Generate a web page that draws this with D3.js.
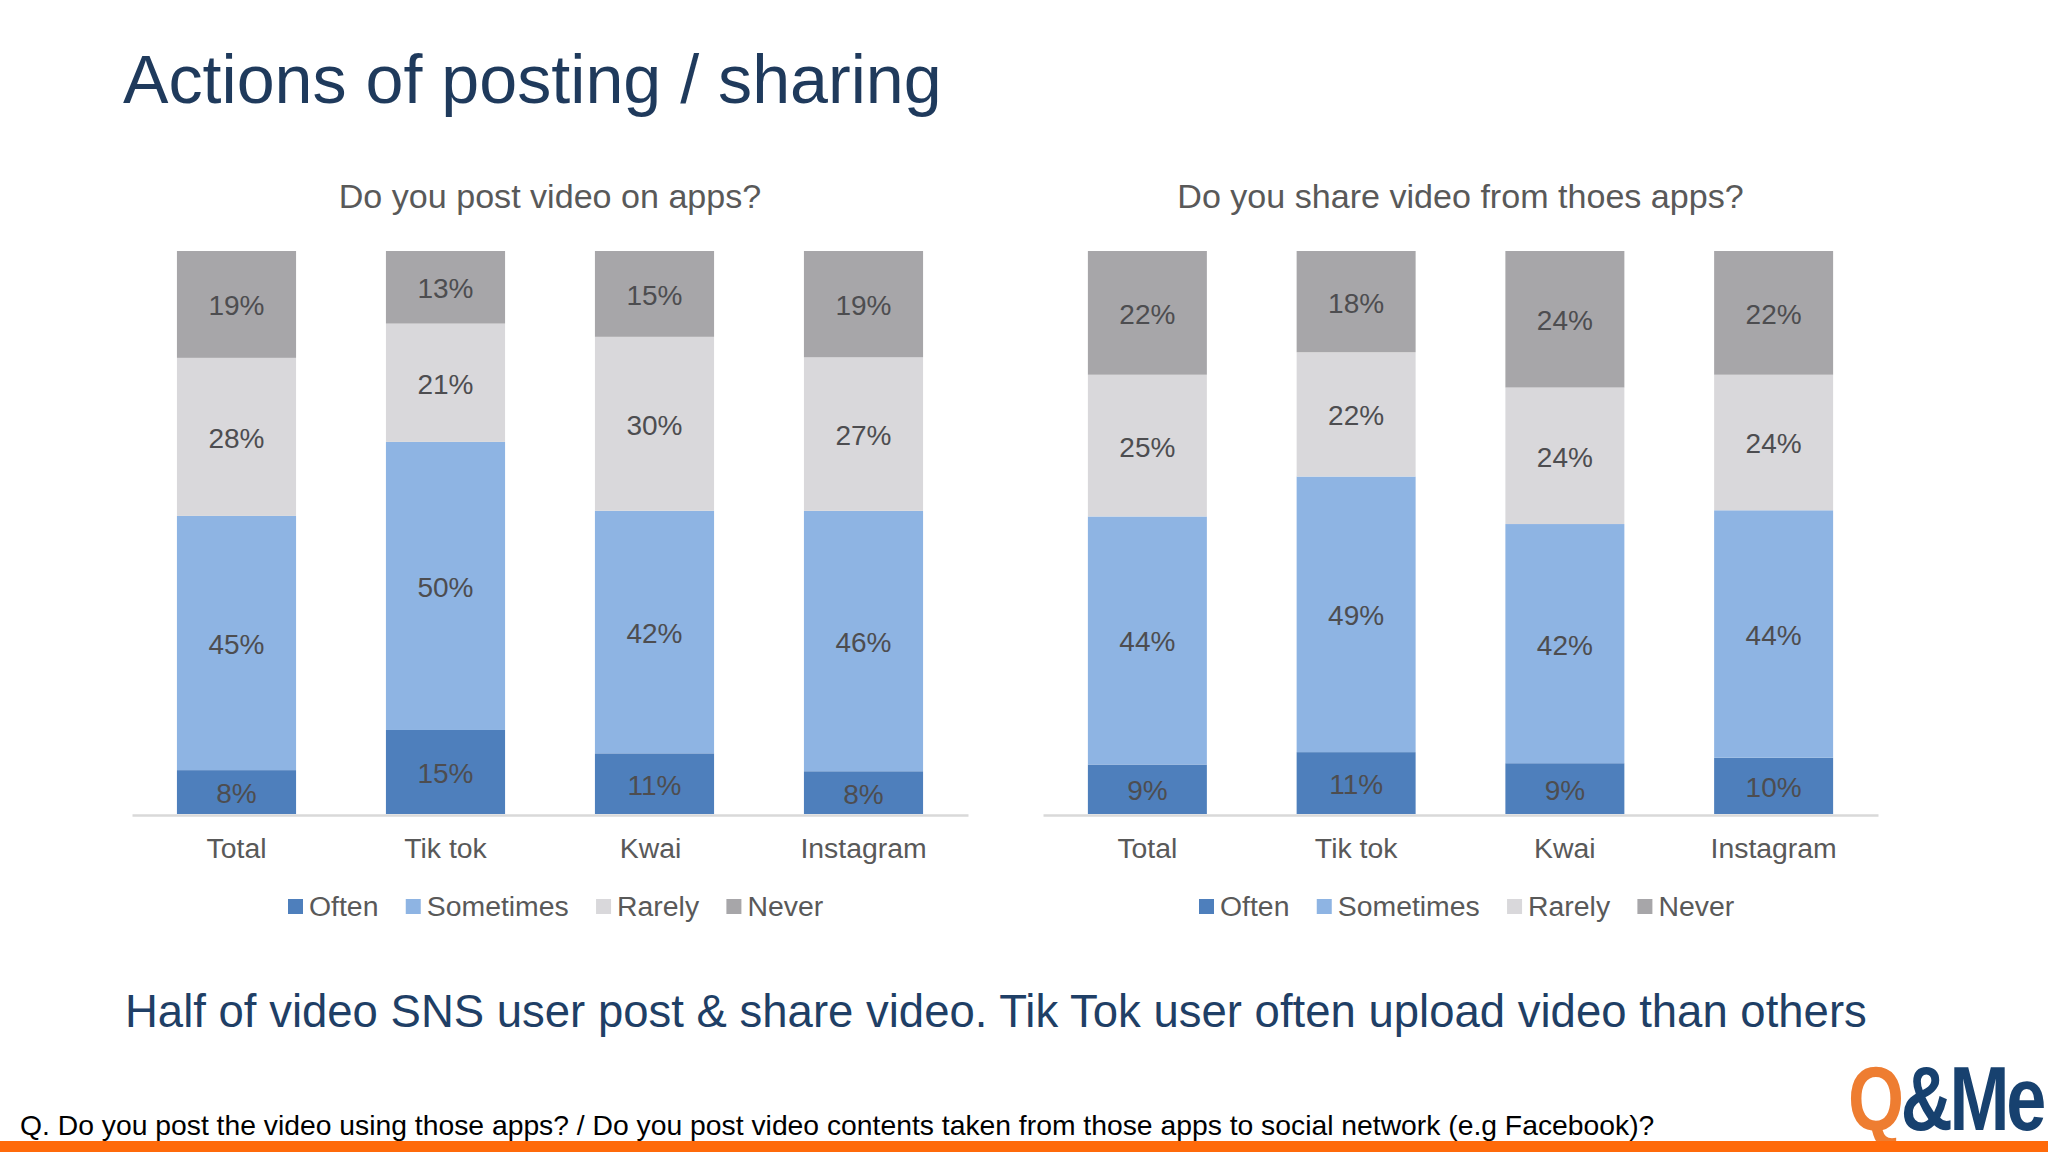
<!DOCTYPE html>
<html>
<head>
<meta charset="utf-8">
<script src="https://d3js.org/d3.v7.min.js"></script>
<style>
  html, body { margin: 0; padding: 0; background: #ffffff; }
  svg { display: block; }
  text { font-family: "Liberation Sans", Arial, sans-serif; }
  .domain { stroke: #d9d9d9; stroke-width: 2.5px; }
  .tick text { font-size: 28.4px; fill: #595959; }
</style>
</head>
<body>
<div id="chart"></div>
<script>
// values, in percent
var categories = ["Total", "Tik tok", "Kwai", "Instagram"];
var answers = ["Often", "Sometimes", "Rarely", "Never"];
var answerColors = ["#4e7fbc", "#8eb4e3", "#d9d8db", "#a7a6a9"];

var postOften = [7.8, 14.7, 10.6, 7.6];
var postSometimes = [45.2, 50.4, 42.4, 46.3];
var postRarely = [28.1, 20.7, 30.4, 27.3];
var postNever = [19.0, 12.7, 15.0, 18.9];

var shareOften = [8.8, 11.0, 9.0, 10.0];
var shareSometimes = [44.1, 49.0, 42.4, 44.0];
var shareRarely = [25.2, 22.1, 24.2, 24.1];
var shareNever = [22.0, 18.0, 24.2, 22.0];

var svgWidth = 2048;
var svgHeight = 1152;
var barsTop = 251;
var barsBottom = 814;

var svg = d3.select("#chart")
  .append("svg")
  .attr("width", svgWidth)
  .attr("height", svgHeight);

svg.append("rect")
  .attr("width", svgWidth)
  .attr("height", svgHeight)
  .attr("fill", "#ffffff");

// slide heading
svg.append("text")
  .attr("x", 123)
  .attr("y", 103)
  .attr("font-size", 68.2)
  .attr("fill", "#1f3a5c")
  .text("Actions of posting / sharing");

function buildRows(often, sometimes, rarely, never) {
  return categories.map(function(name, i) {
    return { name: name, Often: often[i], Sometimes: sometimes[i], Rarely: rarely[i], Never: never[i] };
  });
}

function drawPanel(title, rows, left, right, kwaiShift) {
  var xScale = d3.scaleBand()
    .domain(categories)
    .range([left, right])
    .paddingInner(0.43)
    .paddingOuter(0.215);

  var yScale = d3.scaleLinear()
    .domain([0, 1])
    .range([barsBottom, barsTop]);

  var colorScale = d3.scaleOrdinal()
    .domain(answers)
    .range(answerColors);

  // the chart is a 100% stack, the labels keep the raw figures
  var stacked = d3.stack()
    .keys(answers)
    .offset(d3.stackOffsetExpand)(rows);

  var panel = svg.append("g");

  panel.append("text")
    .attr("x", (left + right) / 2)
    .attr("y", 208)
    .attr("text-anchor", "middle")
    .attr("font-size", 34.1)
    .attr("fill", "#595959")
    .text(title);

  var layers = panel.selectAll(".layer")
    .data(stacked)
    .enter()
    .append("g")
    .attr("class", "layer");

  layers.selectAll("rect")
    .data(d => d)
    .enter()
    .append("rect")
    .attr("x", d => xScale(d.data.name))
    .attr("y", d => yScale(d[1]))
    .attr("width", xScale.bandwidth())
    .attr("height", d => yScale(d[0]) - yScale(d[1]))
    .attr("fill", function() { return colorScale(d3.select(this.parentNode).datum().key); });

  layers.selectAll("text")
    .data(function(s) { return s.map(d => ({ point: d, key: s.key })); })
    .enter()
    .append("text")
    .attr("x", d => xScale(d.point.data.name) + xScale.bandwidth() / 2)
    .attr("y", d => yScale((d.point[0] + d.point[1]) / 2))
    .attr("dy", "0.39em")
    .attr("text-anchor", "middle")
    .attr("font-size", 28)
    .attr("fill", "#4d4d50")
    .text(d => d3.format(".0f")(d.point.data[d.key]) + "%");

  var bottomAxis = d3.axisBottom(xScale).tickSize(0).tickPadding(23);
  var xAxis = panel.append("g")
    .attr("transform", `translate(0, ${barsBottom + 1})`)
    .call(bottomAxis);

  // the Kwai label sits a little off centre on the left chart
  xAxis.selectAll(".tick text")
    .filter(d => d === "Kwai")
    .attr("dx", kwaiShift);

  // legend, laid out from the measured text widths
  var legendX = left + 156;
  answers.forEach(function(answer) {
    panel.append("rect")
      .attr("x", legendX)
      .attr("y", 899)
      .attr("width", 15)
      .attr("height", 15)
      .attr("fill", colorScale(answer));
    var label = panel.append("text")
      .attr("x", legendX + 21)
      .attr("y", 906)
      .attr("dy", "0.36em")
      .attr("font-size", 28.4)
      .attr("fill", "#595959")
      .text(answer);
    legendX += 21 + label.node().getComputedTextLength() + 27.3;
  });
}

drawPanel("Do you post video on apps?",
  buildRows(postOften, postSometimes, postRarely, postNever), 132, 968, -4);
drawPanel("Do you share video from thoes apps?",
  buildRows(shareOften, shareSometimes, shareRarely, shareNever), 1043, 1878, 0);

svg.append("text")
  .attr("x", 125)
  .attr("y", 1027)
  .attr("font-size", 45.5)
  .attr("fill", "#1f3f66")
  .text("Half of video SNS user post & share video. Tik Tok user often upload video than others");

svg.append("text")
  .attr("x", 20)
  .attr("y", 1135)
  .attr("font-size", 28.3)
  .attr("fill", "#000000")
  .text("Q. Do you post the video using those apps? / Do you post video contents taken from those apps to social network (e.g Facebook)?");

// company logo, squeezed so the whole word stays on the slide
var logo = svg.append("text")
  .attr("transform", "translate(1848, 1130) scale(0.8, 1)")
  .attr("font-size", 90)
  .attr("font-weight", "bold")
  .attr("letter-spacing", -4);
logo.append("tspan").attr("fill", "#ee7d31").text("Q");
logo.append("tspan").attr("fill", "#17416f").text("&Me");

// orange strip at the bottom of the slide
svg.append("rect")
  .attr("x", 0)
  .attr("y", 1141)
  .attr("width", svgWidth)
  .attr("height", 11)
  .attr("fill", "#ff6a0a");
</script>
</body>
</html>
